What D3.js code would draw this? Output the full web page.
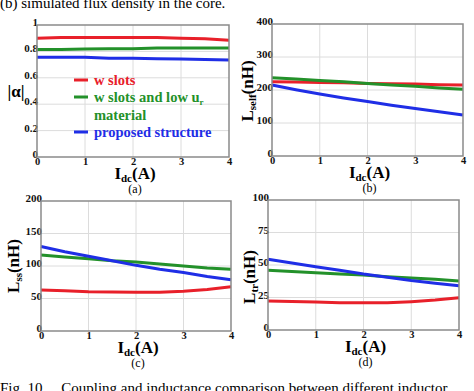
<!DOCTYPE html>
<html><head><meta charset="utf-8">
<script src="https://cdn.jsdelivr.net/npm/d3@7"></script>
<style>body{margin:0;background:#fff;} svg{display:block;}</style>
</head><body>
<script>
// ---- data ----
const idc = [0, 0.5, 1, 1.5, 2, 2.5, 3, 3.5, 4];
const seriesNames = ["w slots", "w slots and low u_r material", "proposed structure"];
const alphaSlots    = [0.900, 0.905, 0.905, 0.905, 0.905, 0.905, 0.900, 0.895, 0.885];
const alphaLowUr    = [0.815, 0.815, 0.818, 0.820, 0.820, 0.825, 0.825, 0.825, 0.825];
const alphaProposed = [0.755, 0.755, 0.755, 0.748, 0.748, 0.745, 0.742, 0.738, 0.735];
const selfSlots     = [225, 224, 223, 222, 220, 219, 218, 216, 215];
const selfLowUr     = [237, 233, 229, 225, 220, 215, 211, 206, 202];
const selfProposed  = [215, 201, 188, 176, 165, 154, 144, 134, 124];
const ssSlots       = [63, 62, 60.5, 60, 59.5, 59.5, 61, 64, 68];
const ssLowUr       = [117, 114, 111, 108, 106, 103, 100, 97, 95];
const ssProposed    = [130, 122, 115, 108, 101, 95, 90, 84, 79];
const trSlots       = [22.3, 22, 21.5, 21, 21, 21, 21.8, 23, 24.8];
const trLowUr       = [46, 45, 44, 43, 42.3, 41, 40, 39, 37.7];
const trProposed    = [54.5, 51.5, 48.7, 46, 43, 40.5, 38, 36, 34];
const xTicks = [0, 1, 2, 3, 4];
const alphaTicks = [0, 0.2, 0.4, 0.6, 0.8, 1];
const selfTicks = [0, 100, 200, 300, 400];
const ssTicks = [0, 50, 100, 150, 200];
const trTicks = [0, 25, 50, 75, 100];

const colors = ["#e8202a", "#23912a", "#1f2ee6"];
const serif = "'Liberation Serif','Times New Roman',serif";

const svg = d3.select("body").append("svg").attr("width", 474).attr("height", 391);

// top and bottom page text
svg.append("text").attr("x", 0).attr("y", 8).attr("font-family", serif).attr("font-size", 15)
  .text("(b) simulated flux density in the core.");
svg.append("text").attr("x", 0).attr("y", 393).attr("font-family", serif).attr("font-size", 15)
  .attr("xml:space", "preserve")
  .text("Fig. 10.    Coupling and inductance comparison between different inductor");

function panel(cfg) {
  const x = d3.scaleLinear().domain([0, 4]).range([cfg.x0, cfg.x1]);
  const y = d3.scaleLinear().domain([cfg.ticks[0], cfg.ticks[cfg.ticks.length - 1]]).range([cfg.y1, cfg.y0]);
  const g = svg.append("g");
  // grid
  g.append("g").selectAll("line").data(xTicks.slice(1, -1)).join("line")
    .attr("x1", d => x(d)).attr("x2", d => x(d)).attr("y1", cfg.y0).attr("y2", cfg.y1)
    .attr("stroke", "#dcdcdc").attr("stroke-width", 1);
  g.append("g").selectAll("line").data(cfg.ticks.slice(1, -1)).join("line")
    .attr("y1", d => y(d)).attr("y2", d => y(d)).attr("x1", cfg.x0).attr("x2", cfg.x1)
    .attr("stroke", "#dcdcdc").attr("stroke-width", 1);
  // axes via d3
  const xa = g.append("g").attr("transform", `translate(0,${cfg.y1})`)
    .call(d3.axisBottom(x).tickValues(xTicks).tickSize(0).tickPadding(1).tickFormat(d3.format("d")));
  xa.select(".domain").remove();
  xa.selectAll("text").attr("font-family", serif).attr("font-weight", "bold").attr("font-size", 10.5).attr("fill", "#111");
  const ya = g.append("g").attr("transform", `translate(${cfg.x0 + 1},0)`)
    .call(d3.axisLeft(y).tickValues(cfg.ticks).tickSize(0).tickPadding(0).tickFormat(d => String(d)));
  ya.select(".domain").remove();
  ya.selectAll("text").attr("font-family", serif).attr("font-weight", "bold").attr("font-size", 11)
    .attr("fill", "#111").attr("dy", "0.05em");
  // lines
  const line = d3.line().x((d, i) => x(idc[i])).y(d => y(d));
  cfg.series.forEach((s, k) => {
    g.append("path").datum(s).attr("d", line).attr("fill", "none")
      .attr("stroke", colors[k]).attr("stroke-width", 3);
  });
  // frame
  g.append("rect").attr("x", cfg.x0).attr("y", cfg.y0).attr("width", cfg.x1 - cfg.x0).attr("height", cfg.y1 - cfg.y0)
    .attr("fill", "none").attr("stroke", "#8a8a8a").attr("stroke-width", 1.5);
  // x label
  const xl = g.append("text").attr("x", (cfg.x0 + cfg.x1) / 2 + 2).attr("y", cfg.y1 + 22)
    .attr("text-anchor", "middle").attr("font-family", serif).attr("font-weight", "bold").attr("font-size", 17);
  xl.append("tspan").text("I");
  xl.append("tspan").attr("font-size", 11).attr("dy", 3).text("dc");
  xl.append("tspan").attr("dy", -3).text("(A)");
  // caption
  g.append("text").attr("x", (cfg.x0 + cfg.x1) / 2 + 2).attr("y", cfg.y1 + 36)
    .attr("text-anchor", "middle").attr("font-family", serif).attr("font-size", 12).text(cfg.cap);
  // y label
  if (cfg.ysub === null) {
    g.append("text").attr("x", cfg.lx).attr("y", cfg.ly).attr("text-anchor", "middle")
      .attr("font-family", serif).attr("font-weight", "bold").attr("font-size", 17).text(cfg.ylab);
  } else {
    const yl = g.append("text").attr("transform", `translate(${cfg.lx},${cfg.ly}) rotate(-90)`)
      .attr("text-anchor", "middle").attr("font-family", serif).attr("font-weight", "bold").attr("font-size", 17);
    yl.append("tspan").text(cfg.ylab);
    yl.append("tspan").attr("font-size", 11).attr("dy", 3).text(cfg.ysub);
    yl.append("tspan").attr("dy", -3).text("(nH)");
  }
  return g;
}

const ga = panel({x0: 37, x1: 229, y0: 25, y1: 157, ticks: alphaTicks, series: [alphaSlots, alphaLowUr, alphaProposed],
  cap: "(a)", ylab: "|\u03b1|", ysub: null, lx: 16, ly: 97});
panel({x0: 272, x1: 463, y0: 24, y1: 156, ticks: selfTicks, series: [selfSlots, selfLowUr, selfProposed],
  cap: "(b)", ylab: "L", ysub: "self", lx: 253, ly: 91});
panel({x0: 41, x1: 231, y0: 201, y1: 331, ticks: ssTicks, series: [ssSlots, ssLowUr, ssProposed],
  cap: "(c)", ylab: "L", ysub: "ss", lx: 19, ly: 266});
panel({x0: 268, x1: 459, y0: 200, y1: 330, ticks: trTicks, series: [trSlots, trLowUr, trProposed],
  cap: "(d)", ylab: "L", ysub: "tr", lx: 255, ly: 277});

// legend in panel (a)
const leg = [
  {t: "w slots", c: 0, line: true, y: 80},
  {t: "w slots and low u", sub: "r", c: 1, line: true, y: 97},
  {t: "material", c: 1, line: false, y: 115},
  {t: "proposed structure", c: 2, line: true, y: 132}
];
leg.forEach(d => {
  if (d.line) ga.append("line").attr("x1", 74).attr("x2", 88).attr("y1", d.y).attr("y2", d.y)
    .attr("stroke", colors[d.c]).attr("stroke-width", 3);
  const t = ga.append("text").attr("x", 94).attr("y", d.y + 5).attr("font-family", serif)
    .attr("font-weight", "bold").attr("font-size", 14.5).attr("fill", colors[d.c]);
  t.append("tspan").text(d.t);
  if (d.sub) t.append("tspan").attr("font-size", 9).attr("dy", 3).text(d.sub);
});
</script>
</body></html>
